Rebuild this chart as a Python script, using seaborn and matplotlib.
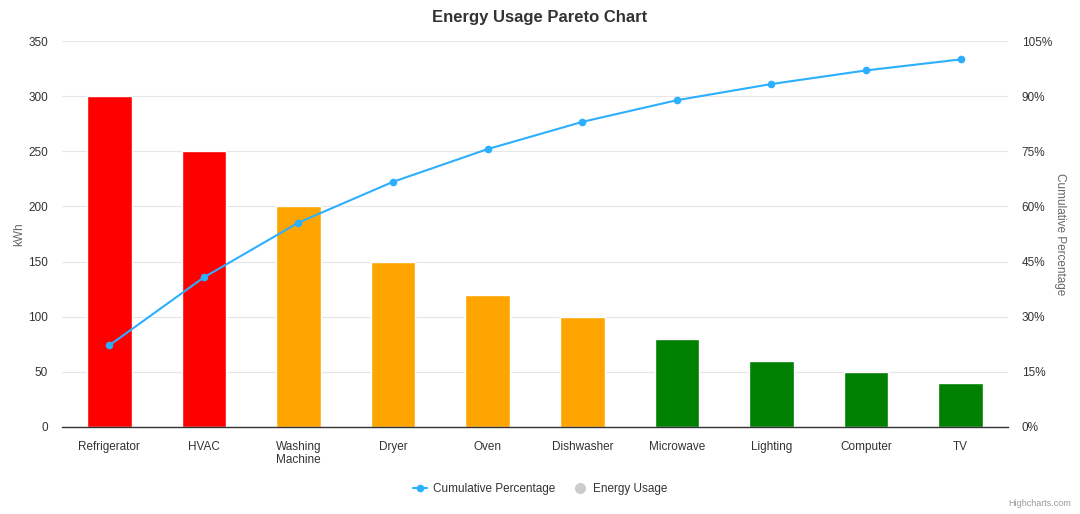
import pandas as pd
import numpy as np
import seaborn as sns
import matplotlib.pyplot as plt
from matplotlib.lines import Line2D

# data
categories = ['Refrigerator', 'HVAC', 'Washing\nMachine', 'Dryer', 'Oven',
              'Dishwasher', 'Microwave', 'Lighting', 'Computer', 'TV']
energy_kwh = [300, 250, 200, 150, 120, 100, 80, 60, 50, 40]
cumulative_pct = [22.2, 40.7, 55.6, 66.7, 75.6, 83.0, 88.9, 93.3, 97.0, 100.0]
bar_colors = ['#ff0000', '#ff0000', '#ffa500', '#ffa500', '#ffa500',
              '#ffa500', '#008000', '#008000', '#008000', '#008000']

sns.set_theme(style='white')
plt.rcParams['font.family'] = ['Liberation Sans', 'DejaVu Sans']

df = pd.DataFrame({'category': categories, 'kwh': energy_kwh, 'cum': cumulative_pct})

fig = plt.figure(figsize=(10.8, 5.14), dpi=100)
ax = fig.add_axes([0.0574, 0.1693, 0.8759, 0.7509])

sns.barplot(data=df, x='category', y='kwh', hue='category', palette=bar_colors,
            legend=False, width=0.47, saturation=1, ax=ax, zorder=2)

ax.set_ylim(0, 350)
ax.set_yticks(np.arange(0, 351, 50))
ax.set_xlim(-0.5, 9.5)
ax.set_xlabel('')
ax.set_ylabel('kWh', fontsize=8.5, color='#666666', labelpad=2)
ax.grid(axis='y', color='#e6e6e6', linewidth=0.8, zorder=0)
ax.set_axisbelow(True)
for s in ['top', 'right', 'left']:
    ax.spines[s].set_visible(False)
ax.spines['bottom'].set_color('#333333')
ax.spines['bottom'].set_linewidth(1)
ax.tick_params(axis='y', length=0, labelsize=8.5, labelcolor='#333333', pad=10)
ax.tick_params(axis='x', length=0, labelsize=8.5, labelcolor='#333333', pad=10)
for lbl in ax.get_xticklabels():
    lbl.set_verticalalignment('top')
    lbl.set_linespacing(1.15)

ax2 = ax.twinx()
sns.lineplot(x=np.arange(len(categories)), y=df['cum'], color='#2caffe', linewidth=1.5,
             marker='o', markersize=5.5, markeredgewidth=0, ax=ax2, zorder=3)
ax2.set_ylim(0, 105)
ax2.set_yticks(np.arange(0, 106, 15))
ax2.set_yticklabels([f'{v}%' for v in range(0, 106, 15)])
ax2.set_ylabel('Cumulative Percentage', fontsize=8.5, color='#666666', rotation=270, labelpad=10)
ax2.tick_params(axis='y', length=0, labelsize=8.5, labelcolor='#333333', pad=10)
for s in ['top', 'right', 'left', 'bottom']:
    ax2.spines[s].set_visible(False)
ax2.grid(False)

fig.text(0.5, 0.966, 'Energy Usage Pareto Chart', ha='center', va='center',
         fontsize=12, fontweight='bold', color='#333333')

handles = [Line2D([0], [0], color='#2caffe', marker='o', markersize=5.5, markeredgewidth=0, linewidth=1.5),
           Line2D([0], [0], color='none', marker='o', markersize=8, markerfacecolor='#cccccc',
                  markeredgewidth=0)]
fig.legend(handles, ['Cumulative Percentage', 'Energy Usage'], loc='center', bbox_to_anchor=(0.5, 0.048),
           ncol=2, frameon=False, fontsize=8.5, handlelength=1.2, columnspacing=1.5, handletextpad=0.5,
           labelcolor='#333333')

fig.text(0.992, 0.012, 'Highcharts.com', ha='right', va='bottom', fontsize=6.5, color='#999999')

plt.savefig('out.png', dpi=100)
